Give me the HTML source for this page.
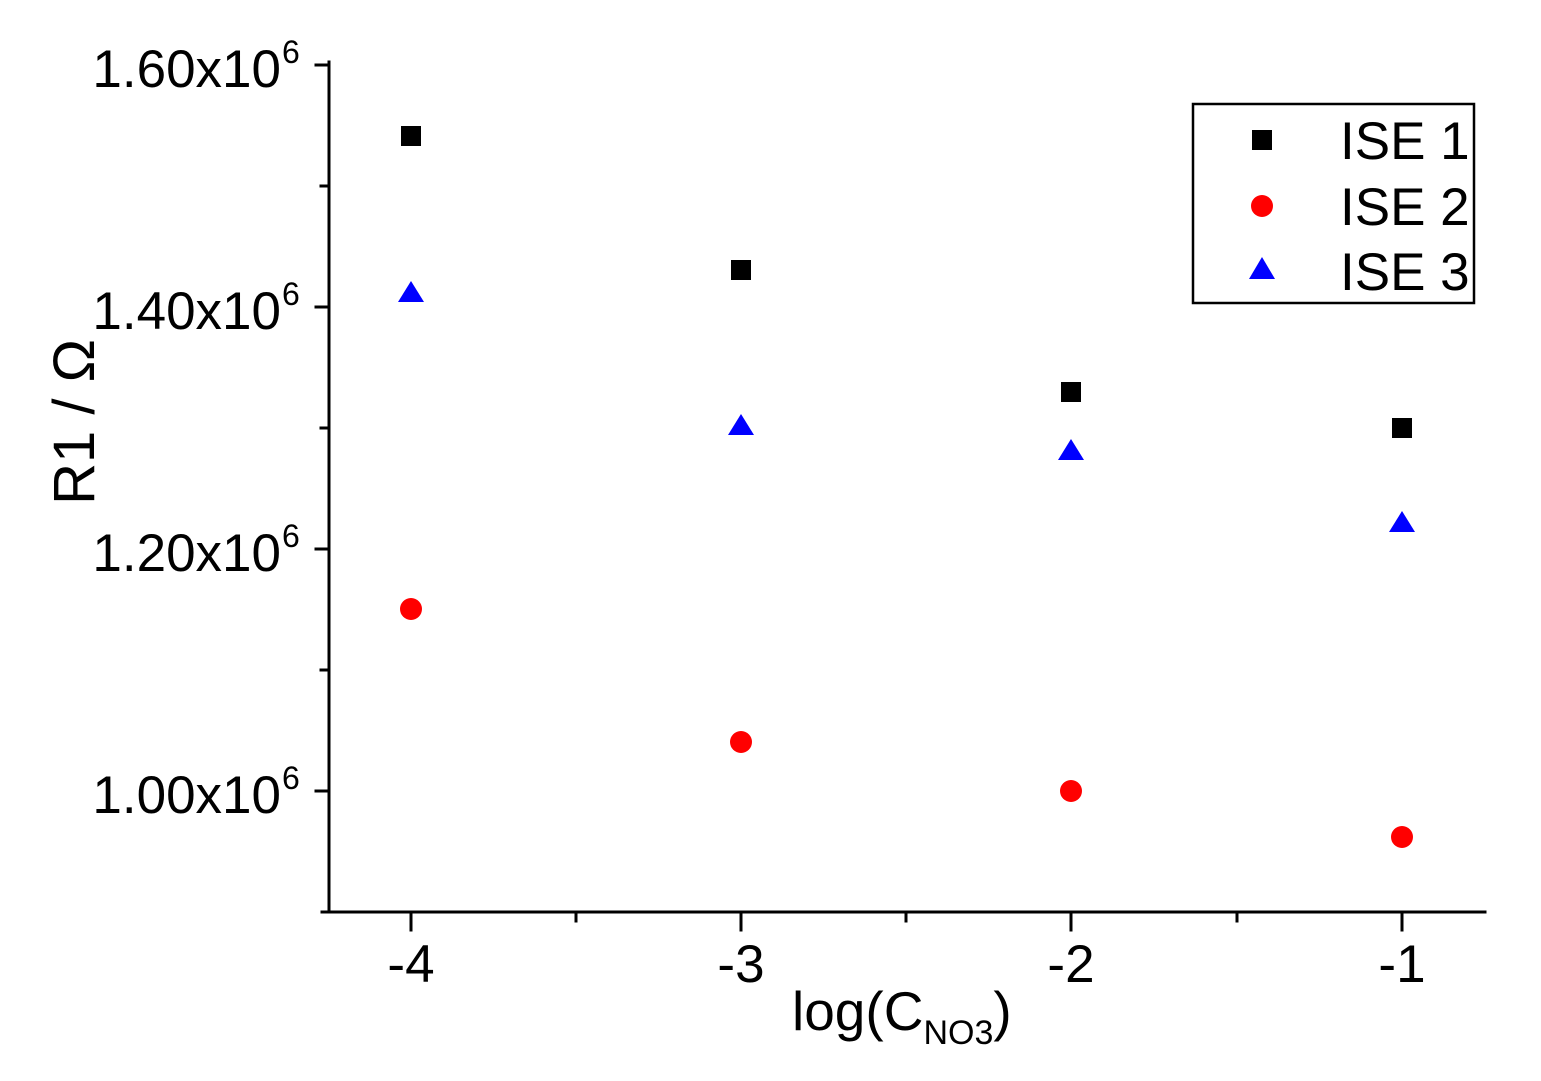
<!DOCTYPE html>
<html><head><style>body{margin:0;background:#fff}svg{display:block}</style></head><body>
<svg width="1541" height="1081" viewBox="0 0 1541 1081" xmlns="http://www.w3.org/2000/svg" font-family="Liberation Sans, sans-serif">
<g stroke="#000" stroke-width="3" fill="none" stroke-linecap="square">
<line x1="329" y1="62" x2="329" y2="912"/>
<line x1="322" y1="912" x2="1485" y2="912"/>
<line x1="316" y1="65" x2="329" y2="65"/>
<line x1="316" y1="307" x2="329" y2="307"/>
<line x1="316" y1="549" x2="329" y2="549"/>
<line x1="316" y1="791" x2="329" y2="791"/>
<line x1="321" y1="186" x2="329" y2="186"/>
<line x1="321" y1="428" x2="329" y2="428"/>
<line x1="321" y1="670" x2="329" y2="670"/>
<line x1="411" y1="912" x2="411" y2="930"/>
<line x1="741" y1="912" x2="741" y2="930"/>
<line x1="1071" y1="912" x2="1071" y2="930"/>
<line x1="1402" y1="912" x2="1402" y2="930"/>
<line x1="576" y1="912" x2="576" y2="921"/>
<line x1="906" y1="912" x2="906" y2="921"/>
<line x1="1237" y1="912" x2="1237" y2="921"/>
<rect x="1193" y="104" width="281" height="199" stroke-width="2.5"/>
</g>
<g font-size="53" fill="#000" text-anchor="end">
<text x="281" y="87">1.60x10</text><text x="281" y="329">1.40x10</text><text x="281" y="571">1.20x10</text><text x="281" y="813">1.00x10</text>
</g>
<g font-size="32" fill="#000">
<text x="282" y="63">6</text><text x="282" y="305">6</text><text x="282" y="547">6</text><text x="282" y="789">6</text>
</g>
<g font-size="53" fill="#000" text-anchor="middle">
<text x="411" y="982">-4</text><text x="741" y="982">-3</text><text x="1071" y="982">-2</text><text x="1402" y="982">-1</text>
</g>
<text x="792" y="1030" font-size="55" fill="#000">log(C<tspan font-size="34" dy="14">NO3</tspan><tspan dy="-14">)</tspan></text>
<text transform="translate(94,422) rotate(-90)" font-size="58" fill="#000" text-anchor="middle">R1 / Ω</text>
<g fill="#000">
<rect x="401" y="126" width="20" height="20"/><rect x="731" y="260" width="20" height="20"/><rect x="1061" y="382" width="20" height="20"/><rect x="1392" y="418" width="20" height="20"/>
<rect x="1252" y="130" width="20" height="20"/>
</g>
<g fill="#f00">
<circle cx="411" cy="609" r="11"/><circle cx="741" cy="742" r="11"/><circle cx="1071" cy="791" r="11"/><circle cx="1402" cy="837" r="11"/>
<circle cx="1262" cy="206" r="11"/>
</g>
<g fill="#00f">
<polygon points="411,281 398,302 424,302"/><polygon points="741,414 728,435 754,435"/><polygon points="1071,439 1058,460 1084,460"/><polygon points="1402,511 1389,532 1415,532"/>
<polygon points="1262,257 1249,279 1275,279"/>
</g>
<g font-size="53" fill="#000">
<text x="1340" y="159">ISE 1</text><text x="1340" y="225">ISE 2</text><text x="1340" y="290">ISE 3</text>
</g>
</svg>
</body></html>
